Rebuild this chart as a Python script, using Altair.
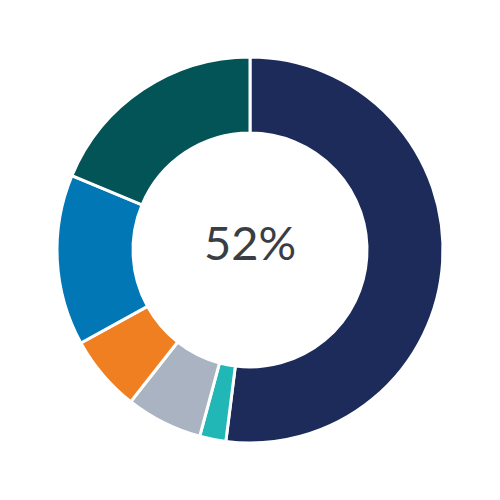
import altair as alt
import pandas as pd

labels = ["A", "B", "C", "D", "E", "F"]
values = [52.0, 2.2, 6.4, 6.4, 14.3, 18.7]
colors = ["#1c2b5a", "#21b7b7", "#a9b3c1", "#f07f22", "#0277b6", "#025456"]
center_label = "52%"

df = pd.DataFrame({"label": labels, "value": values, "order": list(range(len(labels)))})

base = alt.Chart(df).encode(
    theta=alt.Theta("value:Q", stack=True),
    color=alt.Color("label:N", scale=alt.Scale(domain=labels, range=colors), legend=None),
    order=alt.Order("order:Q"),
)

arcs = base.mark_arc(outerRadius=193, innerRadius=117, stroke="white", strokeWidth=3)

text = alt.Chart(pd.DataFrame({"t": [center_label]})).mark_text(
    fontSize=47, font="Lato", color="#3a3e44", baseline="middle", align="center"
).encode(text="t:N", x=alt.value(242), y=alt.value(238))

chart = alt.layer(arcs, text).properties(
    width=484, height=484, padding=0, autosize=alt.AutoSizeParams(type="none")
).configure_view(stroke=None)

chart.save("out.html", embed_options={"renderer": "svg", "actions": False})
